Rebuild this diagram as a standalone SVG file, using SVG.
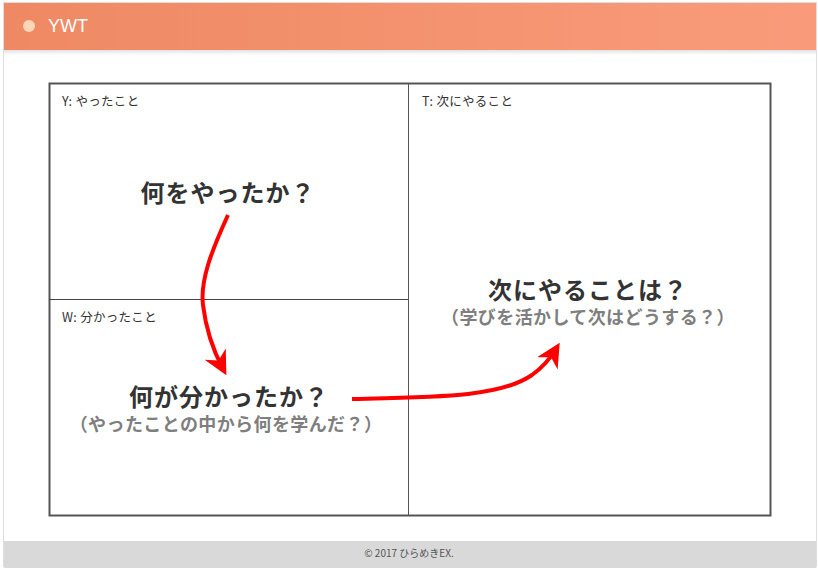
<svg xmlns="http://www.w3.org/2000/svg" width="818" height="568" viewBox="0 0 818 568">
<defs>
<linearGradient id="hdr" x1="0" y1="0" x2="1" y2="0">
<stop offset="0" stop-color="#ee8963"/>
<stop offset="1" stop-color="#f99b7a"/>
</linearGradient>
<linearGradient id="shd" x1="0" y1="0" x2="0" y2="1">
<stop offset="0" stop-color="#000" stop-opacity="0.12"/>
<stop offset="1" stop-color="#000" stop-opacity="0"/>
</linearGradient>
<marker id="ah" viewBox="0 0 10 10" refX="7" refY="5" markerWidth="6" markerHeight="6" markerUnits="strokeWidth" orient="auto">
<path d="M0,0 L10,5 L0,10 L3,5 Z" fill="#ff0000"/>
</marker>
<style>
.lbl{font-family:"Noto Sans CJK JP","Liberation Sans",sans-serif;font-size:12.5px;fill:#333;letter-spacing:0.3px}
.big{font-family:"Noto Sans CJK JP",sans-serif;font-size:24px;font-weight:bold;fill:#333;text-anchor:middle;letter-spacing:1px}
.sub{font-family:"Noto Sans CJK JP",sans-serif;font-size:18px;font-weight:bold;fill:#7f7f7f;text-anchor:middle;letter-spacing:0.4px}
.arr{fill:none;stroke:#ff0000;stroke-width:4;stroke-linecap:butt}
</style>
</defs>
<rect x="0" y="0" width="818" height="568" fill="#fff"/>
<rect x="3.5" y="2.5" width="813" height="564" fill="#fff" stroke="#dddddd" stroke-width="1"/>
<g id="header">
<rect x="4" y="3" width="812" height="47" fill="url(#hdr)"/>
<rect x="4" y="50" width="812" height="5" fill="url(#shd)"/>
<circle cx="29" cy="26" r="6" fill="#fdd6b6"/>
<text x="48" y="32" font-family="Liberation Sans, Arial, sans-serif" font-size="18" fill="#fff">YWT</text>
</g>
<g id="footer">
<rect x="4" y="541" width="812" height="27" fill="#d9d9d9"/>
<text x="409" y="556.5" text-anchor="middle" font-family="'Noto Sans CJK JP','Liberation Sans',sans-serif" font-size="10" fill="#555">© 2017 ひらめきEX.</text>
</g>
<g id="frame">
<rect x="49.5" y="83.5" width="721" height="432" fill="none" stroke="#555" stroke-width="2"/>
<line x1="408.5" y1="83" x2="408.5" y2="516" stroke="#555" stroke-width="1"/>
<line x1="49" y1="299.5" x2="408" y2="299.5" stroke="#444" stroke-width="1"/>
</g>
<g id="Y">
<text class="lbl" x="62" y="106">Y: やったこと</text>
<text class="big" x="228" y="202">何をやったか？</text>
</g>
<g id="W">
<text class="lbl" x="62" y="322">W: 分かったこと</text>
<text class="big" x="229" y="406">何が分かったか？</text>
<text class="sub" x="226" y="431">（やったことの中から何を学んだ？）</text>
</g>
<g id="T">
<text class="lbl" x="422" y="106">T: 次にやること</text>
<text class="big" x="588" y="299">次にやることは？</text>
<text class="sub" x="588" y="324">（学びを活かして次はどうする？）</text>
</g>
<g id="connectors">
<path class="arr" d="M228,215 C212,250 200,280 203,305 C206,330 214,352 223,369" marker-end="url(#ah)"/>
<path class="arr" d="M352,399 C440,397 500,397 532,375 C543,367 550,359 556,349" marker-end="url(#ah)"/>
</g>
</svg>
